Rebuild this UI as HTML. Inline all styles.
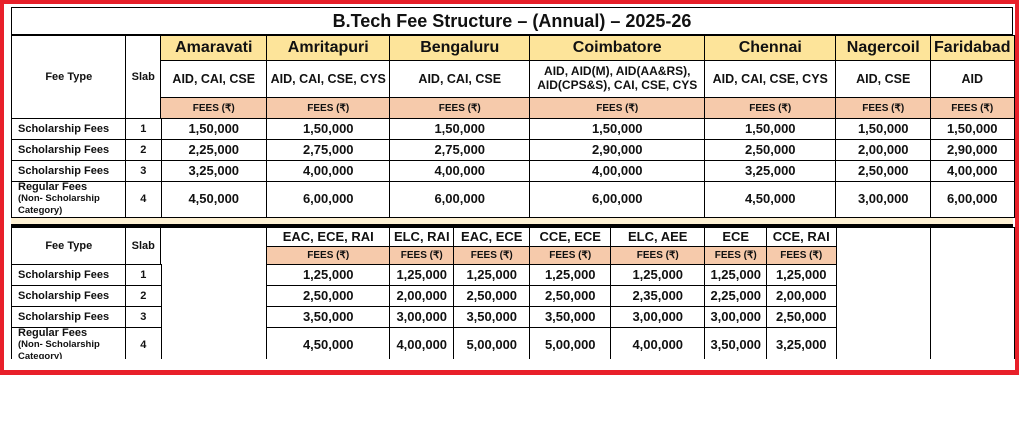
<!DOCTYPE html>
<html><head><meta charset="utf-8">
<style>
html,body{margin:0;padding:0;background:#fff;}
body{width:1024px;height:440px;position:relative;overflow:hidden;font-family:"Liberation Sans",sans-serif;font-weight:bold;color:#111;}
.frame{position:absolute;left:0px;top:0px;width:1011px;height:366px;border:4px solid #e8202a;border-bottom-width:5px;}
.c{position:absolute;box-sizing:border-box;border:1.5px solid #000;display:flex;align-items:center;justify-content:center;text-align:center;line-height:1.15;white-space:nowrap;background:#fff;}
.y{background:#fde49a;}
.p{background:#f6caab;font-size:10px;}
.l{justify-content:flex-start;padding-left:6px;text-align:left;}
</style></head><body>
<div class="frame"></div>
<div class="c" style="left:11px;top:7px;width:1002px;height:28px;font-size:18px;">B.Tech Fee Structure – (Annual) – 2025-26</div>
<div style="position:absolute;left:11px;top:216px;width:1002px;height:8px;background:#fdf0d2;"></div>
<div style="position:absolute;left:11px;top:224px;width:1002px;height:3px;background:#000;"></div>
<div id="root"></div>
<script>
const cities=["Amaravati","Amritapuri","Bengaluru","Coimbatore","Chennai","Nagercoil","Faridabad"];
const programs=["AID, CAI, CSE","AID, CAI, CSE, CYS","AID, CAI, CSE","AID, AID(M), AID(AA&RS),<br>AID(CPS&S), CAI, CSE, CYS","AID, CAI, CSE, CYS","AID, CSE","AID"];
const feesTop=[["1,50,000","2,25,000","3,25,000","4,50,000"],["1,50,000","2,75,000","4,00,000","6,00,000"],["1,50,000","2,75,000","4,00,000","6,00,000"],["1,50,000","2,90,000","4,00,000","6,00,000"],["1,50,000","2,50,000","3,25,000","4,50,000"],["1,50,000","2,00,000","2,50,000","3,00,000"],["1,50,000","2,90,000","4,00,000","6,00,000"]];
const progBottom=["EAC, ECE, RAI","ELC, RAI","EAC, ECE","CCE, ECE","ELC, AEE","ECE","CCE, RAI"];
const feesBottom=[["1,25,000","2,50,000","3,50,000","4,50,000"],["1,25,000","2,00,000","3,00,000","4,00,000"],["1,25,000","2,50,000","3,50,000","5,00,000"],["1,25,000","2,50,000","3,50,000","5,00,000"],["1,25,000","2,35,000","3,00,000","4,00,000"],["1,25,000","2,25,000","3,00,000","3,50,000"],["1,25,000","2,00,000","2,50,000","3,25,000"]];
const feeTypes=["Scholarship Fees","Scholarship Fees","Scholarship Fees","<div style='line-height:1.05'>Regular Fees<br><span style='font-size:9.5px'>(Non- Scholarship<br>Category)</span></div>"];
const slabs=["1","2","3","4"];
const root=document.getElementById('root');
function cell(x1,y1,x2,y2,html,cls,fs,name){
  const d=document.createElement('div');
  d.className='c '+(cls||'');
  d.style.left=x1+'px';d.style.top=y1+'px';d.style.width=(x2-x1+1.5)+'px';d.style.height=(y2-y1+1.5)+'px';
  if(fs)d.style.fontSize=fs+'px';
  d.innerHTML=html;
  
  
  root.appendChild(d);return d;
}
const topCols=[160,266,389,529,704,835,930,1013];
const topRows=[118,139,160,181,216];
cell(11,35,125,118,"Fee Type","",11,"fee-type-header");
cell(125,35,160,118,"Slab","",11,"slab-header");
cities.forEach((c,i)=>{
  const x1=topCols[i],x2=topCols[i+1];
  cell(x1,35,x2,60,c,"y",16,"city-header");
  cell(x1,60,x2,97,programs[i],"",i==3?12:12.5,"programs-cell");
  cell(x1,97,x2,118,"FEES (₹)","p",10,"fees-label");
  for(let r=0;r<4;r++) cell(x1,topRows[r],x2,topRows[r+1],feesTop[i][r],"",13,"fee-value");
});
for(let r=0;r<4;r++){
  cell(11,topRows[r],125,topRows[r+1],feeTypes[r],"l",11,"fee-type-label");
  cell(125,topRows[r],160,topRows[r+1],slabs[r],"",11,"slab-number");
}
const botCols=[266,389,453,529,610,704,766,835];
const botRows=[264,285,306,327,362];
cell(11,227,125,264,"Fee Type","",11,"fee-type-header-2");
cell(125,227,160,264,"Slab","",11,"slab-header-2");
cell(160,227,266,362,"","",11,"empty-column");
cell(835,227,930,362,"","",11,"empty-column");
cell(930,227,1013,362,"","",11,"empty-column");
progBottom.forEach((p,i)=>{
  const x1=botCols[i],x2=botCols[i+1];
  cell(x1,227,x2,246,p,"",13,"programs-cell-2");
  cell(x1,246,x2,264,"FEES (₹)","p",10,"fees-label-2");
  for(let r=0;r<4;r++) cell(x1,botRows[r],x2,botRows[r+1],feesBottom[i][r],"",13,"fee-value-2");
});
for(let r=0;r<4;r++){
  cell(11,botRows[r],125,botRows[r+1],feeTypes[r],"l",11,"fee-type-label-2");
  cell(125,botRows[r],160,botRows[r+1],slabs[r],"",11,"slab-number-2");
}
</script>
<div style="position:absolute;left:4px;top:359px;width:1011px;height:7px;background:#fff;"></div>
</body></html>
